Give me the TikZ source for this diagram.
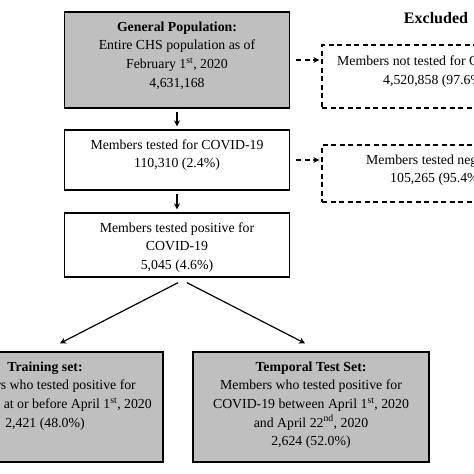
\documentclass[tikz,border=0pt]{standalone}
\usepackage{fontspec}
\setmainfont{Liberation Serif}
\usetikzlibrary{positioning,arrows.meta}
\tikzset{
  flowbox/.style={rectangle, draw, line width=1.4pt, minimum width=225pt, inner sep=0pt},
  graybox/.style={flowbox, fill=black!25, minimum width=236pt, minimum height=110pt},
  exclbox/.style={rectangle, draw, line width=1.3pt, dash pattern=on 5pt off 3.5pt, minimum width=225pt, inner sep=0pt},
  boxtext/.style={anchor=north, align=center, inner sep=0pt, font=\fontsize{13.8}{18.7}\selectfont},
  linetext/.style={anchor=base west, inner sep=0pt, font=\fontsize{13.8}{18.7}\selectfont}
}

\begin{document}
\begin{tikzpicture}[x=1pt, y=-1pt,
    arrow/.style={-{Stealth[length=6pt, width=6pt]}, line width=1.2pt},
    dasharrow/.style={arrow, dash pattern=on 5pt off 3.5pt}
  ]
  \useasboundingbox (0,0) rectangle (474,474);
  \clip (0,0) rectangle (474,474);

  % main column
  \node[flowbox, fill=black!25, minimum height=96pt] (population) at (177,60) {};
  \node[flowbox, minimum height=60pt] (tested) at (177,160) {};
  \node[flowbox, minimum height=64pt] (positive) at (177,245) {};
  \node[graybox] (training) at (45,407) {};
  \node[graybox] (temporal) at (311,407) {};

  \node[boxtext, below=10pt of population.north] (populationtext) {\textbf{General Population:}\\Entire CHS population as of\\February 1\textsuperscript{st}, 2020\\4,631,168};
  \node[boxtext, below=10pt of tested.north] (testedtext) {Members tested for COVID-19\\110,310 (2.4\%)};
  \node[boxtext, below=10pt of positive.north] (positivetext) {Members tested positive for\\COVID-19\\5,045 (4.6\%)};
  \node[boxtext, below=10pt of training.north] (trainingtext) {\textbf{Training set:}\\Members who tested positive for\\COVID-19 at or before April 1\textsuperscript{st}, 2020\\2,421 (48.0\%)};
  \node[boxtext, below=10pt of temporal.north] (temporaltext) {\textbf{Temporal Test Set:}\\Members who tested positive for\\COVID-19 between April 1\textsuperscript{st}, 2020\\and April 22\textsuperscript{nd}, 2020\\2,624 (52.0\%)};

  % excluded column
  \node[font=\fontsize{16}{19}\selectfont\bfseries] (excluded) at (436,18) {Excluded};
  \node[exclbox, minimum height=63pt] (nottested) at (434.5,76.5) {};
  \node[exclbox, minimum height=57pt] (negative) at (434.5,173.5) {};

  \node[linetext] (nottestedA) at (337,65.6) {Members not tested for COVID-19};
  \node[linetext] (nottestedB) at (383,84.6) {4,520,858 (97.6\%)};
  \node[linetext] (negativeA) at (366,164.6) {Members tested negative for COVID-19};
  \node[linetext] (negativeB) at (390,182.6) {105,265 (95.4\%)};

  \draw[arrow, shorten <=3pt, shorten >=3pt] (population) -- (tested);
  \draw[arrow, shorten <=3pt, shorten >=3pt] (tested) -- (positive);
  \draw[dasharrow, shorten <=6pt, shorten >=2pt] (population.east) -- (population.east -| nottested.west);
  \draw[dasharrow, shorten <=6pt, shorten >=2pt] (tested.east) -- (tested.east -| negative.west);
  \draw[arrow] ([xshift=1pt, yshift=-5pt]positive.south) -- ([xshift=15pt, yshift=8pt]training.north);
  \draw[arrow] ([xshift=10pt, yshift=-5pt]positive.south) -- ([xshift=-6pt, yshift=8pt]temporal.north);

\end{tikzpicture}
\end{document}
